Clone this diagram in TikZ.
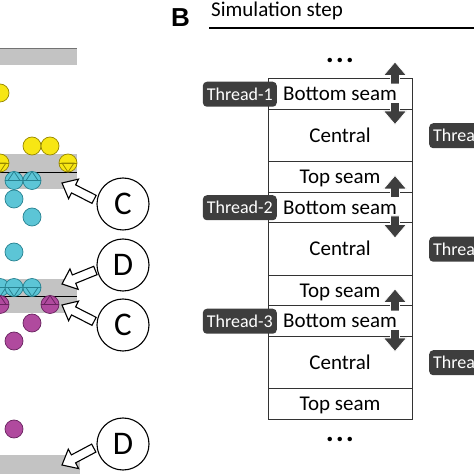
\documentclass[tikz,border=0pt]{standalone}
\usepackage{fontspec}
\setmainfont{Carlito}
\newfontfamily\panelfont{Liberation Sans}
\usepackage{tikz}
\usetikzlibrary{positioning}
\definecolor{bandgrey}{RGB}{195,195,195}
\definecolor{tdark}{RGB}{62,62,62}
\definecolor{yelfill}{RGB}{247,230,20}
\definecolor{yeledge}{RGB}{150,135,0}
\definecolor{cyfill}{RGB}{92,197,214}
\definecolor{cyedge}{RGB}{40,130,145}
\definecolor{magfill}{RGB}{176,74,158}
\definecolor{magedge}{RGB}{105,35,95}
\newcommand{\rowfont}{\fontsize{21}{24}\selectfont}
\newcommand{\thfont}{\fontsize{18}{20}\selectfont}
\newcommand{\labfont}{\fontsize{33}{36}\selectfont}
\newcommand{\beadmark}[3]{% bead node, edge colour, side of the triangle (north/south)
  \draw[draw=#2, line width=0.7pt] (#1.west) -- (#1.east);
  \draw[draw=#2, line width=0.7pt] (#1.center) ++(-6,0) -- ++(12,0) -- (#1.#3) -- cycle;}
% block arrows: tip point, direction
\newcommand{\pusharr}[2]{%
  \filldraw[fill=tdark, draw=white, line width=0.7pt, shift={(#1)}, rotate=#2]
    (0,0) -- (-13.5,11.5) -- (-13.5,4.5) -- (-22,4.5) -- (-22,-4.5) -- (-13.5,-4.5) -- (-13.5,-11.5) -- cycle;}
\newcommand{\hollowarr}[2]{%
  \filldraw[fill=white, draw=black, line width=1.1pt, line join=miter, shift={(#1)}, rotate=#2]
    (0,0) -- (-13,11) -- (-13,4.5) -- (-36,4.5) -- (-36,-4.5) -- (-13,-4.5) -- (-13,-11) -- cycle;}

\begin{document}
\begin{tikzpicture}[x=1pt, y=1pt, node distance=0pt,
  bead/.style={circle, inner sep=0pt, outer sep=0pt, minimum size=18pt, line width=0.7pt},
  ybead/.style={bead, fill=yelfill, draw=yeledge},
  cbead/.style={bead, fill=cyfill, draw=cyedge},
  mbead/.style={bead, fill=magfill, draw=magedge},
  lab/.style={circle, draw, fill=white, line width=1.1pt, minimum size=52pt, inner sep=0pt, font=\labfont},
  seamrow/.style={draw=black!80, line width=1pt, minimum width=144pt, minimum height=30.5pt,
    inner sep=0pt, outer sep=0pt, text height=13.5pt, text depth=0pt, font=\rowfont},
  centrow/.style={seamrow, minimum height=52.5pt},
  thlab/.style={fill=tdark, text=white, rounded corners=4pt, minimum height=25pt, inner xsep=4pt,
    text height=11.6pt, text depth=0pt, font=\thfont},
  dots/.style={inner sep=0pt, font=\fontsize{30}{30}\selectfont\bfseries}]
\useasboundingbox (0,0) rectangle (474,474);
\clip (0,0) rectangle (474,474);

% left panel (cut off at the edge)
\fill[bandgrey] (0,409) rectangle (77,426);
\draw[black!55, line width=1pt] (0,425.5) -- (77,425.5);
\fill[bandgrey] (0,285) rectangle (77,320);
\fill[bandgrey] (0,161) rectangle (77,195);
\fill[bandgrey] (0,0) rectangle (80,19);
\draw[line width=0.9pt] (0,302) -- (77,302);
\draw[line width=0.9pt] (0,178) -- (77,178);

\foreach \x/\y [count=\i] in {0/381, 32/328, 50/328}
  \node[ybead] (yb\i) at (\x,\y) {};
\foreach \x [count=\i] in {0,68} {
  \node[ybead] (ym\i) at (\x,311) {};
  \beadmark{ym\i}{yeledge}{south}}
\foreach \x [count=\i] in {14,32} {
  \node[cbead] (cm\i) at (\x,293.5) {};
  \beadmark{cm\i}{cyedge}{north}}
\foreach \x/\y [count=\i] in {14/275, 32/257, 14/222}
  \node[cbead] (cb\i) at (\x,\y) {};
\foreach \x [count=\i] in {0,14,32} {
  \node[cbead] (cn\i) at (\x,186.5) {};
  \beadmark{cn\i}{cyedge}{south}}
\foreach \x [count=\i] in {0,50} {
  \node[mbead] (mm\i) at (\x,169.5) {};
  \beadmark{mm\i}{magedge}{north}}
\foreach \x/\y [count=\i] in {32/151, 14/133, 14/45}
  \node[mbead] (mb\i) at (\x,\y) {};

\node[lab] (labC1) at (123,270) {C};
\node[lab] (labD1) at (123,209) {D};
\node[lab] (labC2) at (123,149) {C};
\node[lab] (labD2) at (123,30) {D};
\coordinate (tipC1) at (62,291);
\coordinate (tipD1) at (62,190);
\coordinate (tipC2) at (62,169);
\coordinate (tipD2) at (62,9);
\hollowarr{tipC1}{153}
\hollowarr{tipD1}{202}
\hollowarr{tipC2}{153}
\hollowarr{tipD2}{208}

% panel B
\node[anchor=base west, inner sep=0pt, font=\fontsize{26}{30}\selectfont\panelfont\bfseries] (panB) at (171,447) {B};
\node[anchor=base west, inner sep=0pt, font=\rowfont] (title) at (211,457) {Simulation step};
\draw[line width=1.8pt] (209,446) -- (474,446);

\node[seamrow] (bs1) at (340,379.75) {Bottom seam};
\node[centrow, below=of bs1] (ce1) {Central};
\node[seamrow, below=of ce1] (ts1) {Top seam};
\node[seamrow, below=of ts1] (bs2) {Bottom seam};
\node[centrow, below=of bs2] (ce2) {Central};
\node[seamrow, below=of ce2] (ts2) {Top seam};
\node[seamrow, below=of ts2] (bs3) {Bottom seam};
\node[centrow, below=of bs3] (ce3) {Central};
\node[seamrow, below=of ce3] (ts3) {Top seam};

\node[dots] (dtop) at (340,414) {.\kern2pt.\kern2pt.};
\node[dots] (dbot) at (340,35) {.\kern2pt.\kern2pt.};

\foreach \i in {1,2,3} {
  \pusharr{[xshift=-17pt,yshift=17pt]bs\i.north east}{90}
  \pusharr{[xshift=-17pt,yshift=-15pt]bs\i.south east}{-90}
  \node[thlab, anchor=east] (thb\i) at ([xshift=9pt]bs\i.west) {Thread-\i};
  \node[thlab, anchor=west] (thc\i) at ([xshift=17pt]ce\i.east) {Thread-\i};
}
\end{tikzpicture}
\end{document}
